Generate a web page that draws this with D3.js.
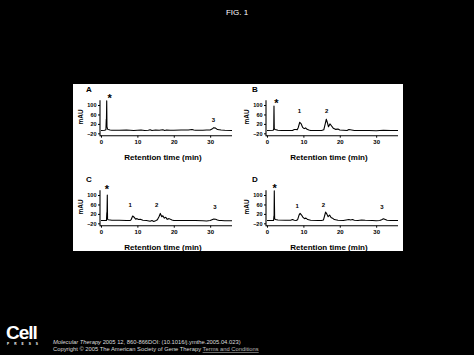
<!DOCTYPE html>
<html><head><meta charset="utf-8">
<script src="https://cdn.jsdelivr.net/npm/d3@7"></script>
<style>body{margin:0;background:#000}svg{display:block}</style>
</head><body>
<script>
// ---- data ----
const panelNames = ["A", "B", "C", "D"];
const xTicks = [0, 10, 20, 30];
const yTicks = [100, 60, 20, -20];
const xLabel = "Retention time (min)";
const yLabel = "mAU";

const tA = [0, 1.0, 1.35, 1.45, 1.5, 1.57, 1.64, 1.8, 2.0, 2.5, 3, 5, 7, 9, 10, 11, 12, 13, 13.5, 14, 15, 16, 17, 17.5, 18, 19, 20, 22, 24, 25, 25.5, 26, 28, 29, 30, 30.5, 31, 31.5, 32, 33, 34, 36];
const yA = [-8, -7, -5, 40, 38, 118, 8, -2, -4, -6, -7, -7, -6, -8, -7, -6, -8, -7, -5, -8, -6, -7, -5, -8, -6, -7, -7, -6, -6, -4, -6, -7, -7, -6, -6, -2, 4, 2, -4, -6, -7, -8];

const tB = [0, 1.7, 1.85, 1.92, 2.0, 2.2, 2.5, 3, 4, 6, 7, 7.5, 8, 8.3, 8.6, 9.0, 9.4, 9.8, 10.2, 10.6, 11, 11.5, 12, 14, 15, 15.6, 16.0, 16.3, 16.6, 16.9, 17.3, 17.7, 18.2, 18.8, 19.5, 20, 21, 22, 22.5, 24, 26, 28, 30, 31, 32, 34, 36];
const yB = [-8, -7, -2, 96, 0, -4, -5, -7, -8, -8, -8, -4, -4, -5, 5, 27, 20, 5, 0, 3, -3, -6, -8, -8, -8, -5, 20, 40, 25, 8, 20, 12, 2, -3, -2, -6, -7, -8, -4, -8, -8, -8, -9, -8, -7, -8, -8];

const tC = [0, 1.5, 1.6, 1.66, 1.73, 1.8, 2.0, 2.5, 3, 5, 7, 8, 8.3, 8.7, 9.1, 9.5, 9.9, 10.3, 10.8, 11.5, 12.5, 13.5, 14, 14.5, 15, 15.5, 16.0, 16.3, 16.7, 17.0, 17.4, 17.8, 18.2, 18.7, 19.5, 20, 22, 24, 26, 28, 29, 30, 30.5, 31, 31.5, 32, 32.5, 33, 34, 36];
const yC = [-8, -8, 25, 27, 100, -2, -5, -6, -7, -7, -8, -8, -4, 11, 6, -2, 0, -4, -3, -7, -8, -11, -8, -12, -9, -5, 10, 22, 8, 12, 2, 6, -3, 0, -6, -8, -8, -8, -8, -9, -10, -8, -5, -2, -3, -6, -8, -8, -9, -9];

const tD = [0, 1.8, 1.9, 1.95, 2.0, 2.1, 2.3, 3, 5, 6.5, 7, 7.5, 8, 8.4, 8.8, 9.1, 9.5, 9.9, 10.3, 10.7, 11.2, 12, 14, 15, 15.5, 15.8, 16.1, 16.5, 16.8, 17.2, 17.6, 18.0, 18.5, 19.5, 21, 22.5, 23, 23.5, 24, 25, 26, 27, 29, 30, 31, 31.5, 32, 32.5, 33, 34, 36];
const yD = [-8, -8, 10, 12, 118, 0, -4, -6, -7, -7, -4, -7, -8, -5, 15, 22, 15, 5, 0, 2, -4, -7, -8, -8, -6, 10, 28, 18, 8, 15, 5, 2, -4, -7, -8, -4, -6, -4, -7, -8, -6, -7, -8, -9, -8, -5, -1, -4, -7, -8, -8];

// peak annotations: text, retention time, mAU level
const notesA = [["*", 2.4, 140], ["3", 30.9, 36]];
const notesB = [["*", 2.6, 120], ["1", 8.9, 75], ["2", 16.4, 75]];
const notesC = [["*", 1.6, 138], ["1", 8.0, 58], ["2", 15.3, 58], ["3", 31.3, 51]];
const notesD = [["*", 2.1, 141], ["1", 8.3, 55], ["2", 15.5, 58], ["3", 31.6, 51]];

const series = [[tA, yA, notesA], [tB, yB, notesB], [tC, yC, notesC], [tD, yD, notesD]];

// ---- drawing ----
const W = 474, H = 355;
const svg = d3.select("body").append("svg").attr("width", W).attr("height", H);
svg.append("rect").attr("width", W).attr("height", H).attr("fill", "#000");
svg.append("rect").attr("x", 73).attr("y", 84).attr("width", 330).attr("height", 167).attr("fill", "#fff");

svg.append("text").attr("x", 237).attr("y", 15).attr("text-anchor", "middle")
  .attr("fill", "#fff").attr("font-family", "Liberation Sans, Arial, sans-serif")
  .attr("font-size", 8).text("FIG. 1");

const FONT = "Liberation Sans, Arial, sans-serif";
const x = d3.scaleLinear().domain([0, 36]).range([101, 232]);
const y = d3.scaleLinear().domain([-30, 120]).range([135.7, 100.3]);
const offsets = [[0, 0], [166, 0], [0, 90], [166, 90]];

series.forEach(([ts, vs, notes], i) => {
  const g = svg.append("g").attr("transform", `translate(${offsets[i][0]},${offsets[i][1]})`);
  const pts = ts.map((t, k) => [t, vs[k]]);
  g.append("path").datum(pts)
    .attr("fill", "none").attr("stroke", "#000").attr("stroke-width", 1.1)
    .attr("stroke-linejoin", "round")
    .attr("d", d3.line().x(d => x(d[0])).y(d => y(d[1])));

  const ya = g.append("g").attr("transform", "translate(100,0)")
    .call(d3.axisLeft(y).tickValues(yTicks).tickSize(2).tickPadding(1.5));
  ya.select(".domain").attr("stroke-width", 1.1).attr("d", `M-0,${y(120)}V${y(-30) + 0.5}`);
  ya.selectAll("text").attr("font-family", FONT).attr("font-weight", "bold").attr("font-size", 5.5);

  const xa = g.append("g").attr("transform", `translate(0,${y(-30)})`)
    .call(d3.axisBottom(x).tickValues(xTicks).tickSize(2).tickPadding(2));
  xa.select(".domain").attr("stroke-width", 1.1).attr("d", `M100,0H${x(36)}`);
  xa.selectAll("text").attr("font-family", FONT).attr("font-weight", "bold").attr("font-size", 6);

  g.append("text").attr("x", 163).attr("y", 160).attr("text-anchor", "middle")
    .attr("font-family", FONT).attr("font-weight", "bold").attr("font-size", 8).text(xLabel);
  g.append("text").attr("transform", "translate(83,117) rotate(-90)").attr("text-anchor", "middle")
    .attr("font-family", FONT).attr("font-weight", "bold").attr("font-size", 6.5).text(yLabel);
  g.append("text").attr("x", 89).attr("y", 92).attr("text-anchor", "middle")
    .attr("font-family", FONT).attr("font-weight", "bold").attr("font-size", 8).text(panelNames[i]);

  g.selectAll("text.note").data(notes).enter().append("text").attr("class", "note")
    .attr("x", d => x(d[1])).attr("y", d => y(d[2]))
    .attr("text-anchor", "middle").attr("dominant-baseline", "central")
    .attr("font-family", FONT).attr("font-weight", "bold")
    .attr("font-size", d => d[0] === "*" ? 11 : 6)
    .attr("dy", d => d[0] === "*" ? "0.25em" : 0)
    .text(d => d[0]);
});

// footer
svg.append("text").attr("x", 6).attr("y", 339).attr("fill", "#fff")
  .attr("font-family", FONT).attr("font-weight", "bold").attr("font-size", 19)
  .attr("letter-spacing", -1).text("Cell");
svg.append("text").attr("x", 7).attr("y", 345).attr("fill", "#fff")
  .attr("font-family", FONT).attr("font-weight", "bold").attr("font-size", 3.2)
  .attr("textLength", 31).attr("lengthAdjust", "spacing").text("PRESS");

const l1 = svg.append("text").attr("x", 53).attr("y", 343.5).attr("fill", "#ddd")
  .attr("font-family", FONT).attr("font-size", 5.8);
l1.append("tspan").attr("font-style", "italic").text("Molecular Therapy");
l1.append("tspan").text(" 2005 12, 860-866DOI: (10.1016/j.ymthe.2005.04.023)");
const l2 = svg.append("text").attr("x", 53).attr("y", 351).attr("fill", "#ddd")
  .attr("font-family", FONT).attr("font-size", 5.8);
l2.append("tspan").text("Copyright © 2005 The American Society of Gene Therapy ");
l2.append("tspan").attr("text-decoration", "underline").attr("fill", "#bbb").text("Terms and Conditions");
</script>
</body></html>
